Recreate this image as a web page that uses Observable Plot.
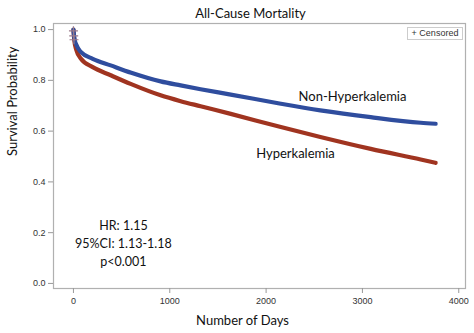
<!DOCTYPE html>
<html><head><meta charset="utf-8">
<script src="https://cdn.jsdelivr.net/npm/d3@7"></script>
<script src="https://cdn.jsdelivr.net/npm/@observablehq/plot@0.6"></script>
<style>
body{margin:0;background:#fff;}
#wrap{position:relative;width:474px;height:333px;}
#legend{position:absolute;left:407px;top:27px;width:54px;height:11px;border:1px solid #ccc;font:9px "Liberation Sans",Arial,sans-serif;color:#333;line-height:11px;text-align:center;background:#fff;}
</style></head>
<body><div id="wrap"></div>
<script>
const days = [0, 10, 30, 76, 200, 387, 600, 905, 1113, 1320, 1633, 2153, 2563, 3086, 3605, 3760];
const nonHyper = [1.0, 0.965, 0.94, 0.912, 0.885, 0.859, 0.83, 0.796, 0.780, 0.765, 0.744, 0.708, 0.682, 0.655, 0.633, 0.629];
const hyper = [1.0, 0.955, 0.92, 0.886, 0.852, 0.82, 0.785, 0.741, 0.718, 0.698, 0.668, 0.616, 0.577, 0.530, 0.488, 0.475];
const censorDays = [0, 3, 6];
const censorVals = [0.995, 0.975, 0.96];
const xTicks = [0, 1000, 2000, 3000, 4000];
const yTicks = [0, 0.2, 0.4, 0.6, 0.8, 1.0];
const curveLabels = [
  {day: 2897, v: 0.734, text: "Non-Hyperkalemia"},
  {day: 2305, v: 0.511, text: "Hyperkalemia"}
];
const statLines = [
  {day: 519, v: 0.228, text: "HR: 1.15"},
  {day: 519, v: 0.155, text: "95%CI: 1.13-1.18"},
  {day: 519, v: 0.086, text: "p<0.001"}
];

const blueData = days.map((d,i)=>({day:d, v:nonHyper[i]}));
const redData = days.map((d,i)=>({day:d, v:hyper[i]}));
const censorData = censorDays.map((d,i)=>({day:d, v:censorVals[i]}));

const font = "Lato, 'Open Sans', sans-serif";
const chart = Plot.plot({
  width: 474, height: 333,
  marginLeft: 53, marginRight: 9, marginTop: 23, marginBottom: 45,
  style: {fontFamily: "'Liberation Sans', Arial, sans-serif", fontSize: "9px", color: "#333", background: "#fff"},
  x: {domain: [-207, 4070], ticks: xTicks, tickFormat: d => String(d)},
  y: {domain: [-0.02, 1.024], ticks: yTicks, tickFormat: d3.format(".1f")},
  marks: [
    Plot.frame({stroke: "#b0b0b0", strokeWidth: 1.2}),
    Plot.axisX({ticks: xTicks, tickSize: 5, tickPadding: 4, stroke: "#999", label: null, tickFormat: d => String(d)}),
    Plot.axisY({ticks: yTicks, tickSize: 5, tickPadding: 3, stroke: "#999", label: null, tickFormat: d3.format(".1f")}),
    Plot.line(redData, {x: "day", y: "v", stroke: "#a03420", strokeWidth: 4.2, curve: "monotone-x"}),
    Plot.line(blueData, {x: "day", y: "v", stroke: "#2f4d9e", strokeWidth: 4.2, curve: "monotone-x"}),
    Plot.dot(censorData, {x: "day", y: "v", symbol: "plus", r: 3, stroke: "#9a7a8a", strokeWidth: 1.2}),
    Plot.text(curveLabels, {x: "day", y: "v", text: "text", fontSize: 13, fontFamily: font, fill: "#111"}),
    Plot.text(statLines, {x: "day", y: "v", text: "text", fontSize: 12.5, fontFamily: font, fill: "#111"}),
    Plot.text(["All-Cause Mortality"], {frameAnchor: "top", dy: -15, fontSize: 13, fontFamily: font, fill: "#111", dx: -9}),
    Plot.text(["Number of Days"], {frameAnchor: "bottom", dy: 36, dx: -17, fontSize: 13, fontFamily: font, fill: "#111"}),
    Plot.text(["Survival Probability"], {frameAnchor: "left", dx: -41, dy: -0, rotate: -90, fontSize: 13, fontFamily: font, fill: "#111"})
  ]
});
document.getElementById("wrap").appendChild(chart);
const lg = document.createElement("div");
lg.id = "legend";
lg.textContent = "+ Censored";
document.getElementById("wrap").appendChild(lg);
</script>
</body></html>
